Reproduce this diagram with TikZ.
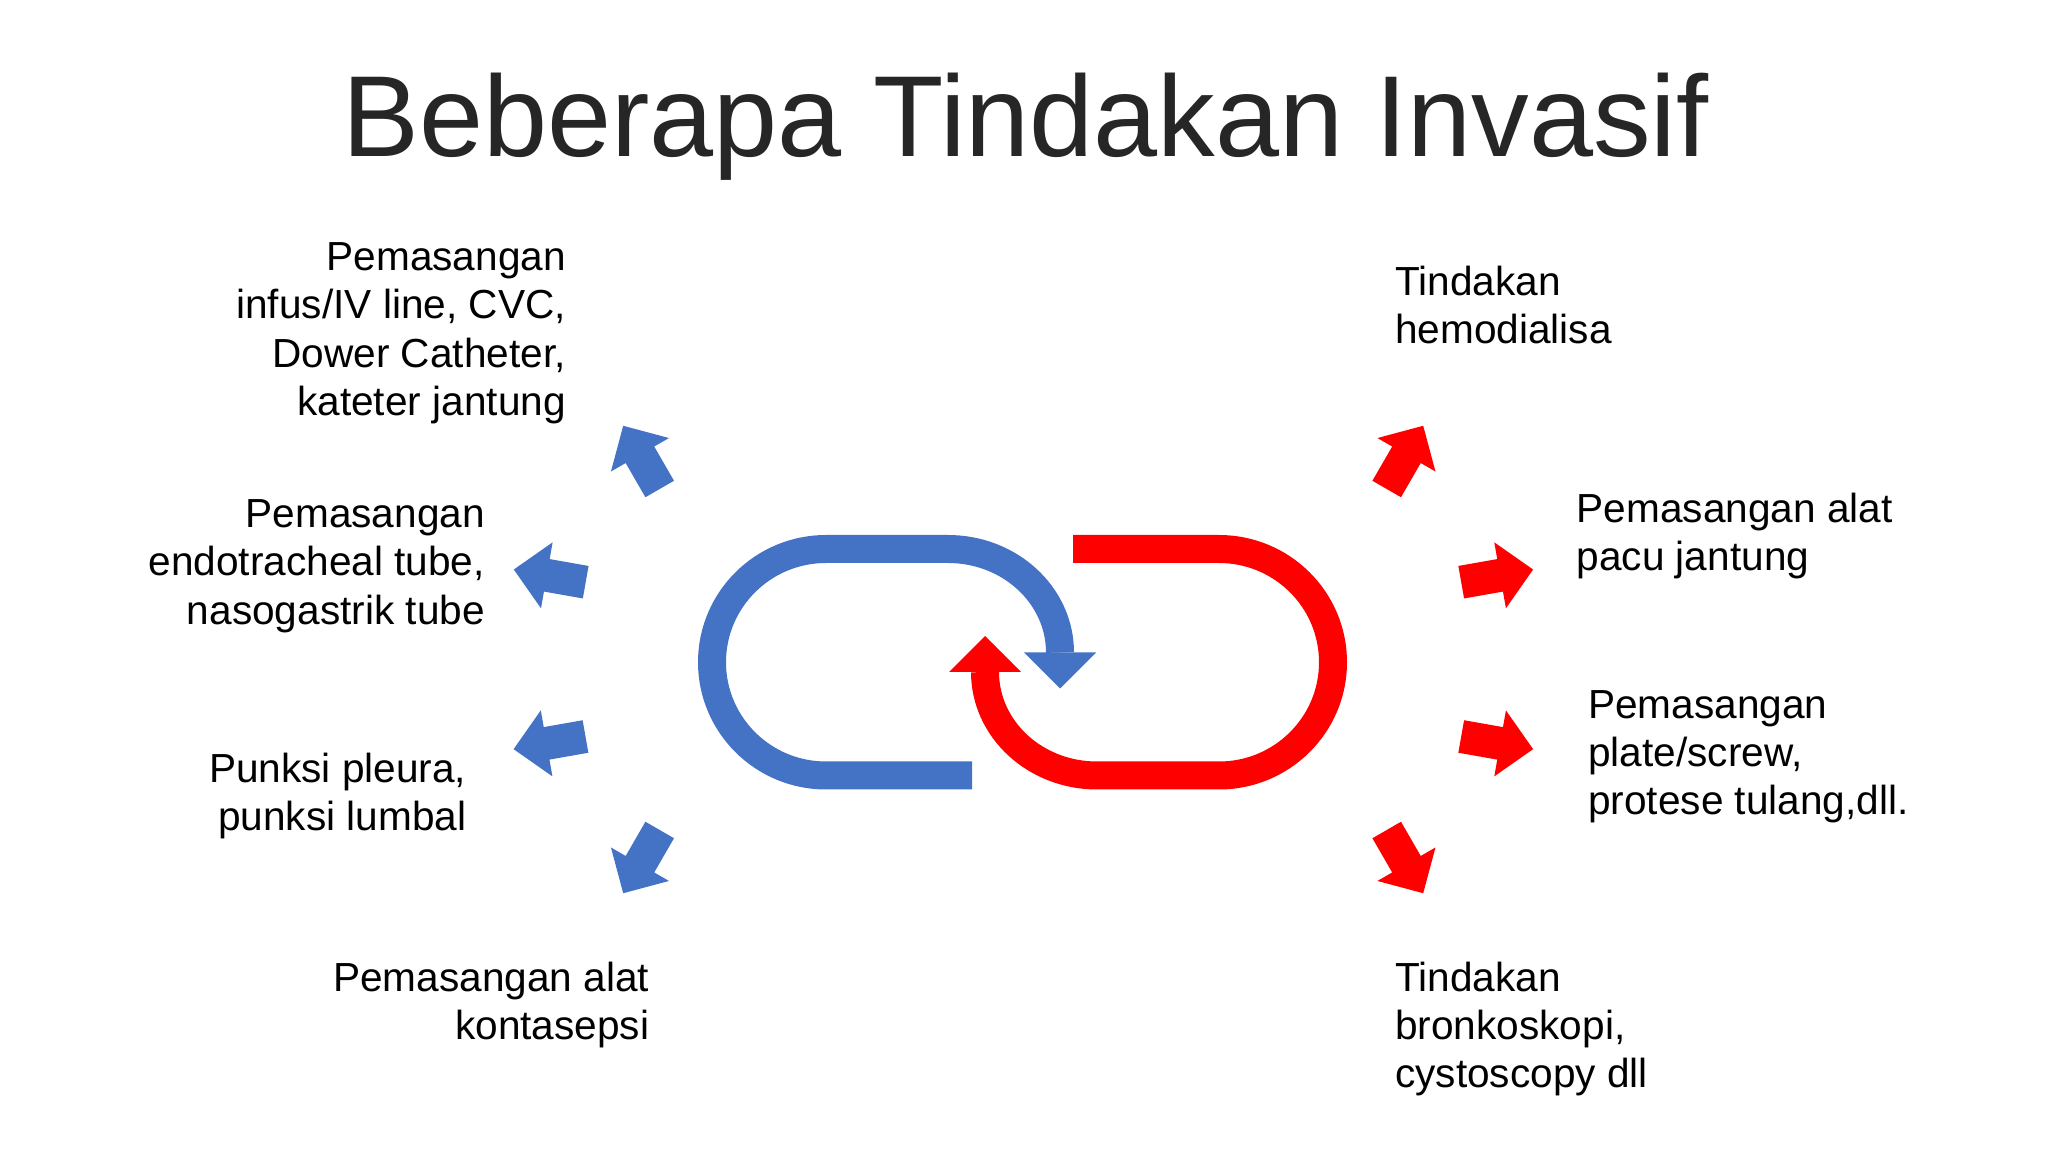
\documentclass[tikz,border=0pt]{standalone}
\usepackage{fontspec}
\setmainfont{Liberation Sans}
\definecolor{linkblue}{HTML}{4472C4}
\definecolor{linkred}{HTML}{FF0000}
\definecolor{titlegray}{HTML}{262626}
\tikzset{
  bodytext/.style={font=\fontsize{40.6}{48.3}\selectfont, inner sep=0pt, text=black},
  lefttext/.style={bodytext, align=right, anchor=north east},
  righttext/.style={bodytext, align=left, anchor=north west},
  titletext/.style={font=\fontsize{115.2}{130}\selectfont, text=titlegray, inner sep=0pt, anchor=base},
  bluelink/.style={draw=linkblue, line width=28pt, line cap=butt},
  redlink/.style={draw=linkred, line width=28pt, line cap=butt},
}
\newcommand{\blockarrow}[4]{%
  \fill[#4, shift={(#1,#2)}, rotate=#3]
    (0,-16.5) -- (39.5,-16.5) -- (39.5,-33.5) -- (73,0) -- (39.5,33.5) -- (39.5,16.5) -- (0,16.5) -- cycle;}
\begin{document}
\begin{tikzpicture}[x=1pt,y=1pt]
\useasboundingbox[fill=white] (0,0) rectangle (2048,1152);

% title
\node[titletext] (title) at (1025.5,995.3) {Beberapa Tindakan Invasif};

% blue link
\draw[bluelink] (972,376.5) -- (826,376.5)
  arc[start angle=270, end angle=90, x radius=114, y radius=113.25]
  -- (948,603)
  arc[start angle=90, end angle=0, x radius=112, y radius=103.5];
\fill[linkblue] (1024,499.5) -- (1096,499.5) -- (1060,463.5) -- cycle;

% red link
\draw[redlink] (1073,603) -- (1219,603)
  arc[start angle=90, end angle=-90, x radius=114, y radius=113.25]
  -- (1097,376.5)
  arc[start angle=270, end angle=180, x radius=112, y radius=103.5];
\fill[linkred] (949,480) -- (1021,480) -- (985,516) -- cycle;

% small blue arrows
\blockarrow{659.7}{663}{120}{linkblue}
\blockarrow{585.7}{569.8}{170}{linkblue}
\blockarrow{585.5}{415.5}{190}{linkblue}
\blockarrow{659.7}{322}{240}{linkblue}

% small red arrows
\blockarrow{1386.7}{663}{60}{linkred}
\blockarrow{1461.2}{569.8}{10}{linkred}
\blockarrow{1461.2}{415.5}{-10}{linkred}
\blockarrow{1386.7}{322}{-60}{linkred}

% left texts
\node[lefttext] (l1) at (566,909.5) {Pemasangan\\infus/IV line, CVC,\\Dower Catheter,\\kateter jantung};
\node[lefttext] (l2) at (485,652.5) {Pemasangan\\endotracheal tube,\\nasogastrik tube};
\node[lefttext] (l3) at (466.5,399.5) {Punksi pleura,\\punksi lumbal};
\node[lefttext] (l4) at (649.5,190.5) {Pemasangan alat\\kontasepsi};

% right texts
\node[righttext] (r1) at (1395,886.5) {Tindakan\\hemodialisa};
\node[righttext] (r2) at (1576.5,659.5) {Pemasangan alat\\pacu jantung};
\node[righttext] (r3) at (1588,462) {Pemasangan\\plate/screw,\\protese tulang,dll.};
\node[righttext] (r4) at (1395,190.5) {Tindakan\\bronkoskopi,\\cystoscopy dll};
\end{tikzpicture}
\end{document}
